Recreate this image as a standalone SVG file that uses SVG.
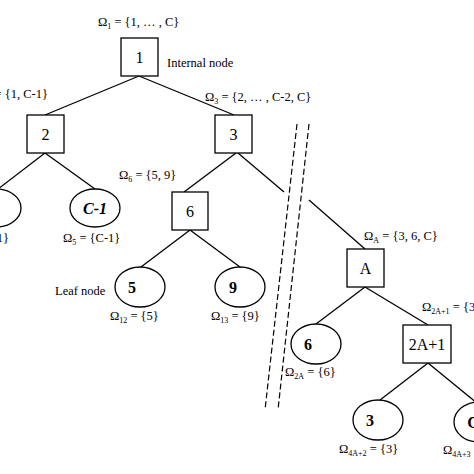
<svg xmlns="http://www.w3.org/2000/svg" width="474" height="474" viewBox="0 0 474 474">
<style>
.box{fill:#fff;stroke:#000;stroke-width:1.3}
.leaf{fill:#fff;stroke:#000;stroke-width:1.3}
.edge{stroke:#000;stroke-width:1.3;fill:none}
.dash{stroke:#000;stroke-width:1.2;fill:none;stroke-dasharray:6 3}
text{font-family:"Liberation Serif","Times New Roman",serif;fill:#000}
.lbl{font-size:12.5px}
.nl{font-size:16px;text-anchor:middle}
.bl{font-size:16px;font-weight:bold;text-anchor:middle}
.sub{font-size:8px}
</style>
<rect width="474" height="474" fill="#fff"/>
<g id="connectors">
<line class="edge" x1="139" y1="76" x2="45" y2="115"/>
<line class="edge" x1="139" y1="76" x2="234" y2="115"/>
<line class="edge" x1="45" y1="153" x2="-2" y2="189"/>
<line class="edge" x1="45" y1="153" x2="95" y2="189"/>
<line class="edge" x1="236" y1="153" x2="184" y2="192"/>
<line class="edge" x1="238" y1="153" x2="284" y2="192"/>
<line class="edge" x1="309" y1="200" x2="365" y2="249"/>
<line class="edge" x1="190" y1="230" x2="141" y2="267"/>
<line class="edge" x1="190" y1="230" x2="240" y2="267"/>
<line class="edge" x1="365" y1="287" x2="316" y2="324"/>
<line class="edge" x1="365" y1="287" x2="428" y2="325"/>
<line class="edge" x1="428" y1="363" x2="380" y2="400"/>
<line class="edge" x1="428" y1="363" x2="477" y2="403"/>
<line class="dash" x1="297" y1="124" x2="265" y2="410"/>
<line class="dash" x1="309" y1="124" x2="278" y2="410"/>
</g>
<g id="node1">
<rect class="box" x="121" y="38" width="37" height="38"/>
<text class="nl" x="139.5" y="63">1</text>
<text class="lbl" x="98" y="26">Ω<tspan class="sub" dy="3">1</tspan><tspan dy="-3"> = {1, … , C}</tspan></text>
<text class="lbl" x="167" y="67">Internal node</text>
</g>
<g id="node2">
<rect class="box" x="27" y="115" width="37" height="38"/>
<text class="nl" x="45.5" y="140">2</text>
<text class="lbl" x="48" y="98" text-anchor="end">Ω<tspan class="sub" dy="3">2</tspan><tspan dy="-3"> = {1, C-1}</tspan></text>
</g>
<g id="node3">
<rect class="box" x="215" y="115" width="37" height="38"/>
<text class="nl" x="233.5" y="140">3</text>
<text class="lbl" x="205" y="101">Ω<tspan class="sub" dy="3">3</tspan><tspan dy="-3"> = {2, … , C-2, C}</tspan></text>
</g>
<g id="node4">
<ellipse class="leaf" cx="-4" cy="208" rx="25" ry="19"/>
<text class="lbl" x="9" y="242" text-anchor="end">Ω<tspan class="sub" dy="3">4</tspan><tspan dy="-3"> = {1}</tspan></text>
</g>
<g id="node5">
<ellipse class="leaf" cx="95" cy="208" rx="25" ry="19"/>
<text class="bl" x="95" y="214" font-style="italic">C-1</text>
<text class="lbl" x="63" y="242">Ω<tspan class="sub" dy="3">5</tspan><tspan dy="-3"> = {C-1}</tspan></text>
</g>
<g id="node6">
<rect class="box" x="172" y="192" width="36" height="38"/>
<text class="nl" x="190" y="217">6</text>
<text class="lbl" x="119" y="179">Ω<tspan class="sub" dy="3">6</tspan><tspan dy="-3"> = {5, 9}</tspan></text>
</g>
<g id="node12">
<ellipse class="leaf" cx="140" cy="287" rx="25" ry="20"/>
<text class="bl" x="132" y="293">5</text>
<text class="lbl" x="55" y="295">Leaf node</text>
<text class="lbl" x="110" y="320">Ω<tspan class="sub" dy="3">12</tspan><tspan dy="-3"> = {5}</tspan></text>
</g>
<g id="node13">
<ellipse class="leaf" cx="240" cy="287" rx="25" ry="20"/>
<text class="bl" x="233" y="293">9</text>
<text class="lbl" x="211" y="320">Ω<tspan class="sub" dy="3">13</tspan><tspan dy="-3"> = {9}</tspan></text>
</g>
<g id="nodeA">
<rect class="box" x="347" y="249" width="37" height="38"/>
<text class="nl" x="365.5" y="274">A</text>
<text class="lbl" x="364" y="240">Ω<tspan class="sub" dy="3">A</tspan><tspan dy="-3"> = {3, 6, C}</tspan></text>
</g>
<g id="node2A">
<ellipse class="leaf" cx="316" cy="344" rx="25" ry="20"/>
<text class="bl" x="308" y="350">6</text>
<text class="lbl" x="285" y="376">Ω<tspan class="sub" dy="3">2A</tspan><tspan dy="-3"> = {6}</tspan></text>
</g>
<g id="node2A1">
<rect class="box" x="403" y="325" width="48" height="38"/>
<text class="nl" x="427" y="350">2A+1</text>
<text class="lbl" x="422" y="311">Ω<tspan class="sub" dy="3">2A+1</tspan><tspan dy="-3"> = {3, C}</tspan></text>
</g>
<g id="node4A2">
<ellipse class="leaf" cx="378" cy="420" rx="25" ry="20"/>
<text class="bl" x="370" y="426">3</text>
<text class="lbl" x="339" y="453">Ω<tspan class="sub" dy="3">4A+2</tspan><tspan dy="-3"> = {3}</tspan></text>
</g>
<g id="node4A3">
<ellipse class="leaf" cx="479" cy="422" rx="25" ry="20"/>
<text class="bl" x="473" y="428">C</text>
<text class="lbl" x="443" y="454">Ω<tspan class="sub" dy="3">4A+3</tspan><tspan dy="-3"> = {C}</tspan></text>
</g>
</svg>
